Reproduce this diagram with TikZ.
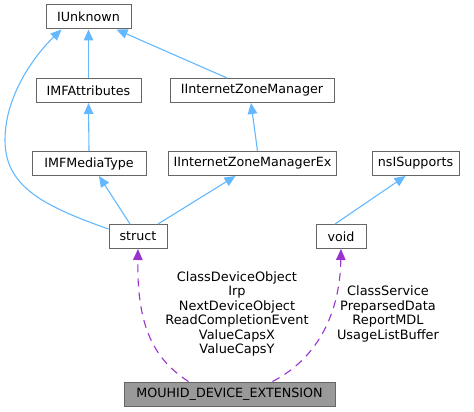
\documentclass[tikz,border=0pt]{standalone}
\usepackage{fontspec}
\setmainfont{DejaVu Sans}
\usetikzlibrary{arrows.meta}
\definecolor{edgeblue}{HTML}{63B8FF}
\definecolor{edgepurple}{HTML}{9A32CD}
\definecolor{boxline}{HTML}{666666}
\definecolor{boxfill}{HTML}{999999}
\begin{document}
\begin{tikzpicture}[x=1pt,y=-1pt,
  box/.style={draw=boxline,line width=1pt,fill=white,minimum height=24pt,inner sep=0pt,
    font=\fontsize{12.7}{14.5}\selectfont},
  mainbox/.style={box,fill=boxfill},
  inh/.style={draw=edgeblue,line width=1.1pt,-{Triangle[length=11pt,width=9.5pt]}},
  use/.style={draw=edgepurple,line width=1.1pt,dash pattern=on 8pt off 6pt,
    -{Triangle[length=11pt,width=9.5pt]}},
  lbl/.style={align=center,inner sep=0pt,font=\fontsize{12.9}{14.5}\selectfont}]
\useasboundingbox (0,0) rectangle (474,412);
\node[box,minimum width=85pt] (iunk) at (88.5,17) {IUnknown};
\node[box,minimum width=105pt] (imfa) at (88.5,90.5) {IMFAttributes};
\node[box,minimum width=164pt] (izm) at (252,90.5) {IInternetZoneManager};
\node[box,minimum width=114pt] (imfm) at (89,163.5) {IMFMediaType};
\node[box,minimum width=168pt] (izmx) at (252.5,163.5) {IInternetZoneManagerEx};
\node[box,minimum width=87pt] (nsis) at (415.5,163.5) {nsISupports};
\node[box,minimum width=58pt] (struct) at (138,236.5) {struct};
\node[box,minimum width=50pt] (void) at (341,236.5) {void};
\node[mainbox,minimum width=211pt] (mou) at (229.5,394) {MOUHID\_DEVICE\_EXTENSION};
\node[lbl] (lblA) at (237,314) {ClassDeviceObject\\Irp\\NextDeviceObject\\ReadCompletionEvent\\ValueCapsX\\ValueCapsY};
\node[lbl] (lblB) at (388,314) {ClassService\\PreparsedData\\ReportMDL\\UsageListBuffer};
% inheritance edges
\draw[inh] (imfa.north) -- (iunk.south);
\draw[inh] ([xshift=-25pt]izm.north) -- ([xshift=28pt]iunk.south);
\draw[inh] ([yshift=-5pt]struct.north west) .. controls (40,205) and (5,185) .. (5,140)
  .. controls (5,95) and (35,55) .. ([xshift=-27pt]iunk.south);
\draw[inh] (imfm.north) -- (imfa.south);
\draw[inh] ([xshift=5pt]izmx.north) -- ([xshift=-1pt]izm.south);
\draw[inh] ([xshift=-8pt]struct.north) -- ([xshift=10pt]imfm.south);
\draw[inh] ([xshift=20pt]struct.north) -- ([xshift=-17pt]izmx.south);
\draw[inh] ([xshift=-6pt]void.north) -- ([xshift=-10pt]nsis.south);
% usage edges
\draw[use] ([xshift=-41pt]mou.north) .. controls (150,357) and (137,320) .. (struct.south);
\draw[use] ([xshift=43pt]mou.north) .. controls (320,357) and (340,310) .. (void.south);
\end{tikzpicture}
\end{document}
